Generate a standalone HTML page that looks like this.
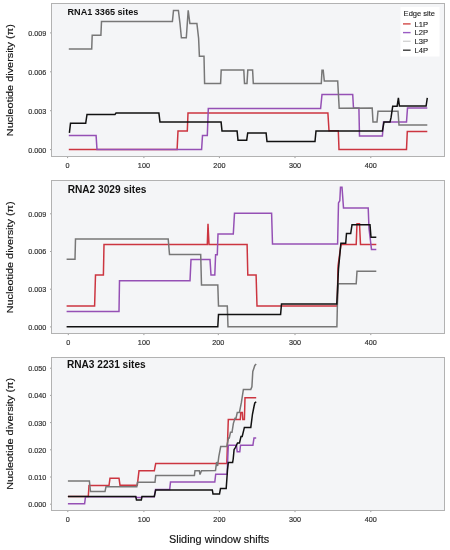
<!DOCTYPE html>
<html><head><meta charset="utf-8"><style>
html,body{margin:0;padding:0;background:#fff;width:450px;height:550px;overflow:hidden}
svg{display:block;will-change:transform}
text{font-family:"Liberation Sans",sans-serif}
</style></head><body>
<svg width="450" height="550" viewBox="0 0 450 550">
<rect x="0" y="0" width="450" height="550" fill="#fff"/>
<rect x="51.5" y="3.5" width="393.0" height="153.0" fill="#f4f5f7" stroke="#b2b2b2" stroke-width="1"/>
<line x1="50.1" y1="149.6" x2="51" y2="149.6" stroke="#555" stroke-width="0.6"/>
<text transform="translate(46.4,152.5) scale(1,1.1)" font-size="7.25" fill="#333" stroke="#333" stroke-width="0.18" text-anchor="end">0.000</text>
<line x1="50.1" y1="110.7" x2="51" y2="110.7" stroke="#555" stroke-width="0.6"/>
<text transform="translate(46.4,113.6) scale(1,1.1)" font-size="7.25" fill="#333" stroke="#333" stroke-width="0.18" text-anchor="end">0.003</text>
<line x1="50.1" y1="71.8" x2="51" y2="71.8" stroke="#555" stroke-width="0.6"/>
<text transform="translate(46.4,74.7) scale(1,1.1)" font-size="7.25" fill="#333" stroke="#333" stroke-width="0.18" text-anchor="end">0.006</text>
<line x1="50.1" y1="32.9" x2="51" y2="32.9" stroke="#555" stroke-width="0.6"/>
<text transform="translate(46.4,35.8) scale(1,1.1)" font-size="7.25" fill="#333" stroke="#333" stroke-width="0.18" text-anchor="end">0.009</text>
<line x1="67.6" y1="157.0" x2="67.6" y2="158.1" stroke="#555" stroke-width="0.6"/>
<text transform="translate(67.6,168.3) scale(1,1.1)" font-size="7.25" fill="#333" stroke="#333" stroke-width="0.18" text-anchor="middle">0</text>
<line x1="143.9" y1="157.0" x2="143.9" y2="158.1" stroke="#555" stroke-width="0.6"/>
<text transform="translate(143.9,168.3) scale(1,1.1)" font-size="7.25" fill="#333" stroke="#333" stroke-width="0.18" text-anchor="middle">100</text>
<line x1="219.4" y1="157.0" x2="219.4" y2="158.1" stroke="#555" stroke-width="0.6"/>
<text transform="translate(219.4,168.3) scale(1,1.1)" font-size="7.25" fill="#333" stroke="#333" stroke-width="0.18" text-anchor="middle">200</text>
<line x1="295.0" y1="157.0" x2="295.0" y2="158.1" stroke="#555" stroke-width="0.6"/>
<text transform="translate(295.0,168.3) scale(1,1.1)" font-size="7.25" fill="#333" stroke="#333" stroke-width="0.18" text-anchor="middle">300</text>
<line x1="370.8" y1="157.0" x2="370.8" y2="158.1" stroke="#555" stroke-width="0.6"/>
<text transform="translate(370.8,168.3) scale(1,1.1)" font-size="7.25" fill="#333" stroke="#333" stroke-width="0.18" text-anchor="middle">400</text>
<text x="67.5" y="14.5" font-size="9.1" font-weight="bold" fill="#111">RNA1 3365 sites</text>
<text transform="translate(13.4,80.2) rotate(-90) scale(1.1,1)" font-size="9.9" fill="#111" stroke="#111" stroke-width="0.15" text-anchor="middle">Nucleotide diversity (π)</text>
<clipPath id="c0"><rect x="51.5" y="3.5" width="393.0" height="153.0"/></clipPath>
<g clip-path="url(#c0)" fill="none" stroke-width="1.5" stroke-linejoin="miter" stroke-miterlimit="2">
<polyline points="68.8,149.6 177.1,149.6 178.0,131.1 187.3,131.1 188.0,112.9 327.9,112.9 329.0,130.7 338.3,130.7 339.0,149.4 406.5,149.4 407.3,131.5 427.3,131.5" stroke="#cc3540"/>
<polyline points="68.8,135.6 96.1,135.6 97.0,149.6 201.6,149.6 202.5,135.6 207.3,135.6 208.3,108.6 320.6,108.6 322.0,94.5 352.7,94.5 353.5,108.1 358.9,108.1 359.5,136.0 382.4,136.0 383.5,122.0 406.5,122.0 407.5,108.1 427.3,108.1" stroke="#9550b5"/>
<polyline points="68.8,48.9 91.7,48.9 92.2,35.3 100.9,35.3 101.5,21.5 172.4,21.5 173.5,10.4 178.4,10.4 180.0,23.5 181.4,37.7 186.3,37.7 188.2,10.4 189.9,23.5 196.9,23.5 198.6,38.2 199.4,56.2 204.0,56.2 204.6,83.6 220.6,83.6 221.2,70.1 243.8,70.1 244.5,83.6 247.0,83.6 247.8,70.1 252.6,70.1 253.3,83.6 321.3,83.6 322.0,70.2 323.2,70.2 324.3,80.9 337.7,80.9 339.2,108.3 372.2,108.1 373.0,122.0 377.0,122.0 378.0,111.3 398.0,111.3 399.0,125.0 427.3,125.0" stroke="#777777"/>
<polyline points="69.4,132.9 70.5,123.3 85.7,123.3 87.0,114.4 115.0,114.4 116.0,113.1 158.9,113.1 160.0,122.1 221.1,122.1 222.0,131.1 237.1,131.1 238.0,140.2 246.7,140.2 247.7,132.9 266.1,132.9 267.0,141.6 315.0,141.6 316.0,130.9 382.4,130.9 384.0,122.0 390.0,122.0 391.0,117.9 392.7,106.3 397.1,106.3 398.4,97.8 399.4,106.0 426.1,106.0 427.3,97.8" stroke="#111111"/>
</g>
<rect x="51.5" y="180.5" width="393.0" height="153.0" fill="#f4f5f7" stroke="#b2b2b2" stroke-width="1"/>
<line x1="50.1" y1="326.9" x2="51" y2="326.9" stroke="#555" stroke-width="0.6"/>
<text transform="translate(46.4,329.8) scale(1,1.1)" font-size="7.25" fill="#333" stroke="#333" stroke-width="0.18" text-anchor="end">0.000</text>
<line x1="50.1" y1="289.2" x2="51" y2="289.2" stroke="#555" stroke-width="0.6"/>
<text transform="translate(46.4,292.1) scale(1,1.1)" font-size="7.25" fill="#333" stroke="#333" stroke-width="0.18" text-anchor="end">0.003</text>
<line x1="50.1" y1="251.5" x2="51" y2="251.5" stroke="#555" stroke-width="0.6"/>
<text transform="translate(46.4,254.4) scale(1,1.1)" font-size="7.25" fill="#333" stroke="#333" stroke-width="0.18" text-anchor="end">0.006</text>
<line x1="50.1" y1="213.8" x2="51" y2="213.8" stroke="#555" stroke-width="0.6"/>
<text transform="translate(46.4,216.7) scale(1,1.1)" font-size="7.25" fill="#333" stroke="#333" stroke-width="0.18" text-anchor="end">0.009</text>
<line x1="68.3" y1="334.0" x2="68.3" y2="335.1" stroke="#555" stroke-width="0.6"/>
<text transform="translate(68.3,345.3) scale(1,1.1)" font-size="7.25" fill="#333" stroke="#333" stroke-width="0.18" text-anchor="middle">0</text>
<line x1="143.9" y1="334.0" x2="143.9" y2="335.1" stroke="#555" stroke-width="0.6"/>
<text transform="translate(143.9,345.3) scale(1,1.1)" font-size="7.25" fill="#333" stroke="#333" stroke-width="0.18" text-anchor="middle">100</text>
<line x1="218.3" y1="334.0" x2="218.3" y2="335.1" stroke="#555" stroke-width="0.6"/>
<text transform="translate(218.3,345.3) scale(1,1.1)" font-size="7.25" fill="#333" stroke="#333" stroke-width="0.18" text-anchor="middle">200</text>
<line x1="295.0" y1="334.0" x2="295.0" y2="335.1" stroke="#555" stroke-width="0.6"/>
<text transform="translate(295.0,345.3) scale(1,1.1)" font-size="7.25" fill="#333" stroke="#333" stroke-width="0.18" text-anchor="middle">300</text>
<line x1="370.8" y1="334.0" x2="370.8" y2="335.1" stroke="#555" stroke-width="0.6"/>
<text transform="translate(370.8,345.3) scale(1,1.1)" font-size="7.25" fill="#333" stroke="#333" stroke-width="0.18" text-anchor="middle">400</text>
<text x="67.7" y="192.5" font-size="10.15" font-weight="bold" fill="#111">RNA2 3029 sites</text>
<text transform="translate(13.4,257.3) rotate(-90) scale(1.1,1)" font-size="9.9" fill="#111" stroke="#111" stroke-width="0.15" text-anchor="middle">Nucleotide diversity (π)</text>
<clipPath id="c1"><rect x="51.5" y="180.5" width="393.0" height="153.0"/></clipPath>
<g clip-path="url(#c1)" fill="none" stroke-width="1.5" stroke-linejoin="miter" stroke-miterlimit="2">
<polyline points="66.6,306.0 94.6,306.0 95.5,275.1 103.4,275.1 104.0,244.4 207.3,244.4 208.0,223.8 209.0,244.4 247.1,244.4 247.8,275.1 256.1,275.1 257.0,306.0 337.2,306.0 338.0,266.0 341.0,244.4 356.2,244.4 357.0,223.7 359.5,223.7 360.5,244.4 376.3,244.4" stroke="#cc3540"/>
<polyline points="66.6,311.5 119.0,311.5 119.5,280.7 190.0,280.7 191.0,259.6 210.0,259.6 211.0,275.1 214.8,275.1 215.6,254.7 217.3,254.7 218.0,234.0 233.3,234.0 234.5,213.3 271.6,213.3 272.5,244.0 337.6,244.0 338.5,202.9 339.8,200.7 340.5,187.2 342.0,187.2 343.5,207.9 368.2,207.9 369.0,228.5 371.5,249.4 376.3,249.4" stroke="#9550b5"/>
<polyline points="66.6,259.3 75.0,259.3 75.5,238.9 168.2,238.9 169.5,254.4 200.7,254.4 201.5,285.1 217.8,285.1 218.5,306.0 227.3,306.0 228.0,326.7 336.9,326.7 337.5,300.0 338.3,283.7 356.2,283.7 357.0,271.3 376.3,271.3" stroke="#777777"/>
<polyline points="66.6,326.8 217.8,326.8 218.5,314.4 280.6,314.4 281.5,304.0 336.8,304.0 338.5,268.9 340.9,243.3 345.7,243.3 346.5,233.5 350.7,233.5 352.0,224.8 370.0,224.8 371.0,237.2 376.3,237.2" stroke="#111111"/>
</g>
<rect x="51.5" y="357.5" width="393.0" height="153.0" fill="#f4f5f7" stroke="#b2b2b2" stroke-width="1"/>
<line x1="50.1" y1="504.2" x2="51" y2="504.2" stroke="#555" stroke-width="0.6"/>
<text transform="translate(46.4,507.1) scale(1,1.1)" font-size="7.25" fill="#333" stroke="#333" stroke-width="0.18" text-anchor="end">0.000</text>
<line x1="50.1" y1="477.0" x2="51" y2="477.0" stroke="#555" stroke-width="0.6"/>
<text transform="translate(46.4,479.9) scale(1,1.1)" font-size="7.25" fill="#333" stroke="#333" stroke-width="0.18" text-anchor="end">0.010</text>
<line x1="50.1" y1="449.8" x2="51" y2="449.8" stroke="#555" stroke-width="0.6"/>
<text transform="translate(46.4,452.7) scale(1,1.1)" font-size="7.25" fill="#333" stroke="#333" stroke-width="0.18" text-anchor="end">0.020</text>
<line x1="50.1" y1="422.6" x2="51" y2="422.6" stroke="#555" stroke-width="0.6"/>
<text transform="translate(46.4,425.5) scale(1,1.1)" font-size="7.25" fill="#333" stroke="#333" stroke-width="0.18" text-anchor="end">0.030</text>
<line x1="50.1" y1="395.4" x2="51" y2="395.4" stroke="#555" stroke-width="0.6"/>
<text transform="translate(46.4,398.3) scale(1,1.1)" font-size="7.25" fill="#333" stroke="#333" stroke-width="0.18" text-anchor="end">0.040</text>
<line x1="50.1" y1="368.2" x2="51" y2="368.2" stroke="#555" stroke-width="0.6"/>
<text transform="translate(46.4,371.1) scale(1,1.1)" font-size="7.25" fill="#333" stroke="#333" stroke-width="0.18" text-anchor="end">0.050</text>
<line x1="67.8" y1="511.0" x2="67.8" y2="512.1" stroke="#555" stroke-width="0.6"/>
<text transform="translate(67.8,522.3) scale(1,1.1)" font-size="7.25" fill="#333" stroke="#333" stroke-width="0.18" text-anchor="middle">0</text>
<line x1="143.9" y1="511.0" x2="143.9" y2="512.1" stroke="#555" stroke-width="0.6"/>
<text transform="translate(143.9,522.3) scale(1,1.1)" font-size="7.25" fill="#333" stroke="#333" stroke-width="0.18" text-anchor="middle">100</text>
<line x1="219.4" y1="511.0" x2="219.4" y2="512.1" stroke="#555" stroke-width="0.6"/>
<text transform="translate(219.4,522.3) scale(1,1.1)" font-size="7.25" fill="#333" stroke="#333" stroke-width="0.18" text-anchor="middle">200</text>
<line x1="295.0" y1="511.0" x2="295.0" y2="512.1" stroke="#555" stroke-width="0.6"/>
<text transform="translate(295.0,522.3) scale(1,1.1)" font-size="7.25" fill="#333" stroke="#333" stroke-width="0.18" text-anchor="middle">300</text>
<line x1="370.8" y1="511.0" x2="370.8" y2="512.1" stroke="#555" stroke-width="0.6"/>
<text transform="translate(370.8,522.3) scale(1,1.1)" font-size="7.25" fill="#333" stroke="#333" stroke-width="0.18" text-anchor="middle">400</text>
<text x="66.9" y="368.3" font-size="10.15" font-weight="bold" fill="#111">RNA3 2231 sites</text>
<text transform="translate(13.4,433.8) rotate(-90) scale(1.1,1)" font-size="9.9" fill="#111" stroke="#111" stroke-width="0.15" text-anchor="middle">Nucleotide diversity (π)</text>
<clipPath id="c2"><rect x="51.5" y="357.5" width="393.0" height="153.0"/></clipPath>
<g clip-path="url(#c2)" fill="none" stroke-width="1.5" stroke-linejoin="miter" stroke-miterlimit="2">
<polyline points="67.9,496.6 88.3,496.6 89.0,485.5 109.0,485.5 110.0,478.2 119.0,478.2 120.0,485.2 137.3,485.2 139.0,470.8 154.3,470.8 155.7,463.5 226.8,463.5 228.3,419.6 240.3,419.6 240.8,412.5 242.3,412.5 242.8,419.6 244.4,419.6 245.0,397.7 256.2,397.7" stroke="#cc3540"/>
<polyline points="67.9,503.8 84.6,503.8 85.5,496.7 136.0,496.7 136.5,497.5 141.3,497.5 142.0,496.7 154.3,496.7 155.5,489.4 169.7,489.4 170.5,482.0 214.8,482.0 215.7,474.2 227.1,474.2 228.3,445.3 236.5,445.3 237.2,451.8 239.8,451.8 240.5,445.3 252.9,445.3 254.0,437.9 256.2,437.9" stroke="#9550b5"/>
<polyline points="67.9,481.1 89.4,481.1 90.5,491.6 105.0,491.6 106.0,486.7 136.8,486.7 137.5,482.3 155.0,482.3 155.7,475.4 194.4,475.4 195.0,470.7 199.3,470.7 200.0,474.5 201.5,470.7 215.5,470.4 216.6,462.0 217.6,466.0 218.8,456.7 220.7,446.5 226.8,446.5 228.5,438.1 229.3,438.1 230.5,432.3 232.0,432.3 233.4,423.3 235.0,418.2 236.0,418.2 237.3,412.4 239.4,412.4 241.4,402.4 243.4,389.4 250.8,389.4 251.9,386.9 252.8,371.5 253.5,369.4 254.8,365.4 256.2,364.0" stroke="#777777"/>
<polyline points="67.9,496.6 135.7,496.6 136.5,500.0 141.3,500.0 142.0,496.6 154.3,496.6 155.7,489.9 212.3,489.9 213.0,494.0 219.5,494.0 220.5,488.5 226.2,488.5 227.5,470.0 228.3,462.6 232.6,462.6 233.2,459.0 234.1,449.5 235.5,447.3 237.5,443.0 239.5,443.0 241.0,436.5 242.2,436.5 244.4,427.4 250.8,427.4 252.5,414.0 254.0,406.5 254.8,403.0 256.2,401.7" stroke="#111111"/>
</g>
<rect x="400.5" y="7" width="39" height="49.5" fill="#fff"/>
<text x="403.6" y="15.9" font-size="7.55" fill="#222" stroke="#222" stroke-width="0.12">Edge site</text>
<line x1="403" y1="23.9" x2="410.6" y2="23.9" stroke="#d24a48" stroke-width="1.4"/>
<text x="414.5" y="26.7" font-size="7.6" fill="#222" stroke="#222" stroke-width="0.12">L1P</text>
<line x1="403" y1="32.6" x2="410.6" y2="32.6" stroke="#9a5cc4" stroke-width="1.4"/>
<text x="414.5" y="35.4" font-size="7.6" fill="#222" stroke="#222" stroke-width="0.12">L2P</text>
<line x1="403" y1="41.3" x2="410.6" y2="41.3" stroke="#d4d4d4" stroke-width="1.4"/>
<text x="414.5" y="44.1" font-size="7.6" fill="#222" stroke="#222" stroke-width="0.12">L3P</text>
<line x1="403" y1="50.2" x2="410.6" y2="50.2" stroke="#3a3a3a" stroke-width="1.4"/>
<text x="414.5" y="53.0" font-size="7.6" fill="#222" stroke="#222" stroke-width="0.12">L4P</text>
<text x="219.1" y="543.3" font-size="10.85" fill="#111" stroke="#111" stroke-width="0.15" text-anchor="middle">Sliding window shifts</text>
</svg>
</body></html>
